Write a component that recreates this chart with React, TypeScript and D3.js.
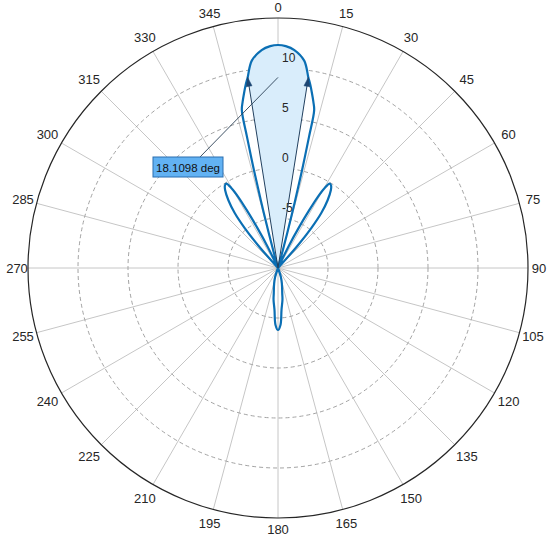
import React from 'react';
import * as d3 from 'd3';

// ---- data ----
const angleTicks = [0, 15, 30, 45, 60, 75, 90, 105, 120, 135, 150, 165, 180, 195, 210, 225, 240, 255, 270, 285, 300, 315, 330, 345];
const radialTickValues = [-5, 0, 5, 10];
const ringValues = [-5, 0, 5, 10, 15];
const radialMin = -10;
const radialMax = 15;

// pattern sample angles (deg, 0 = top, clockwise) and magnitudes (dB)
const patternAngles = [
  -180, -177.5, -175.2, -172, -170.6, -166, -162, -158,
  -42.5, -41.2, -39.8, -38.2, -36.2, -34.2, -32.8, -31.5, -30.2, -29.2, -28.4, -27.3, -26, -24.5,
  -16, -15.4, -14.8, -14.3, -13.8, -13.3, -12.9, -12, -11, -10, -9.05, -7.2, -4.3, -2,
  0,
  2, 4.3, 7.2, 9.05, 10, 11, 12, 12.9, 13.3, 13.8, 14.3, 14.8, 15.4, 16,
  24.5, 26, 27.3, 28.4, 29.2, 30.2, 31.5, 32.8, 34.2, 36.2, 38.2, 39.8, 41.2, 42.5,
  158, 162, 166, 170.6, 172, 175.2, 177.5,
];
const patternDb = [
  -3.8, -4.3, -5.8, -6.8, -7.4, -8.4, -9.1, -10,
  -10, -7.0, -4.8, -3.0, -1.6, -0.6, -0.2, -0.1, -0.8, -1.9, -3.4, -5.4, -7.6, -10,
  -10, -8.6, -6.4, -3.2, 0.1, 3.5, 6.2, 7.0, 7.8, 8.6, 9.3, 10.9, 11.85, 12.2,
  12.3,
  12.2, 11.85, 10.9, 9.3, 8.6, 7.8, 7.0, 6.2, 3.5, 0.1, -3.2, -6.4, -8.6, -10,
  -10, -7.6, -5.4, -3.4, -1.9, -0.8, -0.1, -0.2, -0.6, -1.6, -3.0, -4.8, -7.0, -10,
  -10, -9.1, -8.4, -7.4, -6.8, -5.8, -4.3,
];

const hpbwAngles = [-9.05, 9.05];
const beamwidthLabel = '18.1098 deg';

export default function App() {
  const W = 557;
  const H = 539;
  const cx = 278;
  const cy = 268;
  const R = 250;
  const rs = d3.scaleLinear().domain([radialMin, radialMax]).range([0, R]).clamp(true);
  const rad = (d: number) => (d * Math.PI) / 180;

  const pts: [number, number][] = patternAngles.map((a, i) => [rad(a), rs(patternDb[i])]);
  const radial = d3
    .lineRadial<[number, number]>()
    .angle((d) => d[0])
    .radius((d) => d[1]);
  const patternPath = radial.curve(d3.curveCatmullRomClosed.alpha(0.5))(pts) || '';

  const lo = Math.min(...hpbwAngles);
  const hi = Math.max(...hpbwAngles);
  const fillPts = pts.filter((_, i) => patternAngles[i] >= lo && patternAngles[i] <= hi);
  const arc = d3
    .lineRadial<[number, number]>()
    .angle((d) => d[0])
    .radius((d) => d[1])
    .curve(d3.curveCatmullRom.alpha(0.5))(fillPts) || '';
  const fillPath = 'M0,0L' + arc.slice(1) + 'Z';

  const tips = hpbwAngles.map((a) => {
    const v = patternDb[patternAngles.indexOf(a)];
    const rr = rs(v);
    return { a: rad(a), r: rr, x: rr * Math.sin(rad(a)), y: -rr * Math.cos(rad(a)) };
  });
  const chordMid = { x: (tips[0].x + tips[1].x) / 2, y: (tips[0].y + tips[1].y) / 2 };

  const arrowHead = (t: { a: number; r: number }) => {
    const len = 9;
    const hw = 3;
    const ux = Math.sin(t.a);
    const uy = -Math.cos(t.a);
    const tx = t.r * ux;
    const ty = t.r * uy;
    const bx = tx - len * ux;
    const by = ty - len * uy;
    const px = -uy;
    const py = ux;
    return `M${tx},${ty}L${bx + hw * px},${by + hw * py}L${bx - hw * px},${by - hw * py}Z`;
  };

  // annotation box (absolute layout)
  const boxX = 153 - cx;
  const boxY = 157 - cy;
  const boxW = 70;
  const boxH = 20;

  const font = "'Liberation Sans', Arial, Helvetica, sans-serif";

  return (
    <svg
      width={W}
      height={H}
      style={{ position: 'absolute', left: 0, top: 0, background: '#fff' }}
      fontFamily={font}
    >
      <rect x={0} y={0} width={W} height={H} fill="#fff" />
      <g transform={`translate(${cx},${cy})`}>
        {/* spokes */}
        {angleTicks.map((a) => (
          <line
            key={'s' + a}
            x1={0}
            y1={0}
            x2={R * Math.sin(rad(a))}
            y2={-R * Math.cos(rad(a))}
            stroke="#c6c6c6"
            strokeWidth={1}
          />
        ))}
        {/* dashed rings */}
        {ringValues
          .filter((v) => v < radialMax)
          .map((v) => (
            <circle key={'c' + v} r={rs(v)} fill="none" stroke="#a3a3a3" strokeWidth={1} strokeDasharray="4,3" />
          ))}
        {/* beamwidth fill */}
        <path d={fillPath} fill="#d9edfb" stroke="none" />
        {/* radial tick labels */}
        {radialTickValues.map((v) => (
          <text key={'rt' + v} x={4} y={-rs(v) - 6} fontSize={12} fill="#262626" textAnchor="start">
            {v}
          </text>
        ))}
        {/* outer circle */}
        <circle r={R} fill="none" stroke="#262626" strokeWidth={1.2} />
        {/* angle labels */}
        {angleTicks.map((a) => {
          const t = rad(a);
          const rl = 261 + 6 * Math.abs(Math.sin(2 * t));
          return (
            <text
              key={'al' + a}
              x={rl * Math.sin(t)}
              y={-rl * Math.cos(t)}
              fontSize={13}
              fill="#262626"
              textAnchor="middle"
              dominantBaseline="central"
            >
              {a}
            </text>
          );
        })}
        {/* pattern */}
        <path d={patternPath} fill="none" stroke="#0b6fb4" strokeWidth={2.2} strokeLinejoin="round" />
        {/* beamwidth arrows */}
        {tips.map((t, i) => (
          <g key={'ar' + i}>
            <line x1={0} y1={0} x2={t.x} y2={t.y} stroke="#22405f" strokeWidth={1} />
            <path d={arrowHead(t)} fill="#1d4673" stroke="#1d4673" strokeWidth={0.5} />
          </g>
        ))}
        {/* leader line */}
        <line x1={chordMid.x} y1={chordMid.y} x2={200 - cx} y2={boxY} stroke="#2a3f55" strokeWidth={0.9} />
        {/* annotation box */}
        <rect x={boxX} y={boxY} width={boxW} height={boxH} fill="#62b2f3" stroke="#2b6fb0" strokeWidth={1} />
        <text x={boxX + boxW / 2} y={boxY + boxH / 2 + 1} fontSize={11.5} fill="#111" textAnchor="middle" dominantBaseline="central">
          {beamwidthLabel}
        </text>
      </g>
    </svg>
  );
}
